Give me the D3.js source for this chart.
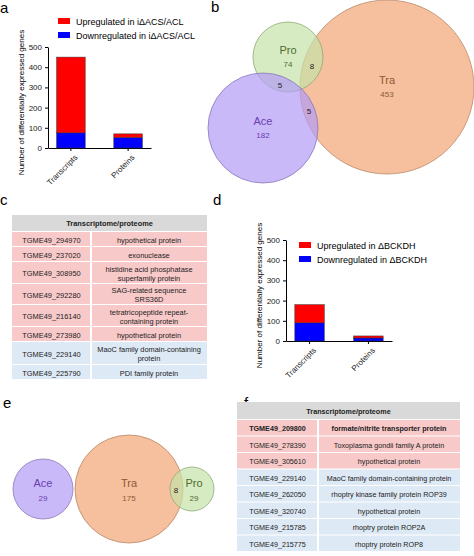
<!DOCTYPE html><html><head><meta charset="utf-8"><script src="https://cdn.jsdelivr.net/npm/d3@7"></script>
<style>body{margin:0;background:#fff}text{font-family:"Liberation Sans",Arial,sans-serif}</style></head><body>
<svg id="s" width="474" height="556"></svg>
<script>
const cats=["Transcripts","Proteins"];
const aDown=[75,52], aUp=[375,18];
const dDown=[90,15], dUp=[90,10];
const yTicks=[0,100,200,300,400,500];
const vennB=[{n:"Tra",v:453},{n:"Pro",v:74},{n:"Ace",v:182}];
const vennBOverlap=["8","5","5"];
const vennE=[{n:"Ace",v:29},{n:"Tra",v:175},{n:"Pro",v:29}];
const vennEOverlap=["8"];
const tableC=[["TGME49_294970","hypothetical protein",0],["TGME49_237020","exonuclease",0],["TGME49_308950","histidine acid phosphatase|superfamily protein",0],["TGME49_292280","SAG-related sequence|SRS36D",0],["TGME49_216140","tetratricopeptide repeat-|containing protein",0],["TGME49_273980","hypothetical protein",0],["TGME49_229140","MaoC family domain-containing|protein",1],["TGME49_225790","PDI family protein",1]];
const tableF=[["TGME49_209800","formate/nitrite transporter protein",0],["TGME49_278390","Toxoplasma gondii family A protein",0],["TGME49_305610","hypothetical protein",0],["TGME49_229140","MaoC family domain-containing protein",1],["TGME49_262050","rhoptry kinase family protein ROP39",1],["TGME49_320740","hypothetical protein",1],["TGME49_215785","rhoptry protein ROP2A",1],["TGME49_215775","rhoptry protein ROP8",1]];
const svg=d3.select("#s");
[["a",0,13],["b",211,12],["c",0,205],["d",213,205],["e",3,408],["f",244,408]].forEach(([t,x,y])=>svg.append("text").attr("x",x).attr("y",y).attr("font-size",15).text(t));

function bar(x0,x1,y0,y1,down,up,legY,legX,lab){
  const g=svg.append("g");
  const x=d3.scaleBand().domain(cats).range([x0,x1]).paddingInner(0.5).paddingOuter(0.15);
  const y=d3.scaleLinear().domain([0,500]).range([y0,y1]);
  g.append("g").attr("transform",`translate(0,${y0})`).call(d3.axisBottom(x).tickSize(3).tickSizeOuter(0))
   .selectAll("text").attr("font-size",8).attr("fill","#222").attr("text-anchor","end").attr("transform","rotate(-45)").attr("dx",-2).attr("dy",6);
  g.append("g").attr("transform",`translate(${x0},0)`).call(d3.axisLeft(y).tickValues(yTicks).tickSize(3).tickSizeOuter(0)).selectAll("text").attr("font-size",8).attr("fill","#222");
  g.selectAll(".domain,line").attr("stroke","#000").attr("stroke-width",1);
  cats.forEach((c,i)=>{
    g.append("rect").attr("x",x(c)).attr("width",x.bandwidth()).attr("y",y(down[i])).attr("height",y0-y(down[i])).attr("fill","#0000ff").attr("stroke","#333").attr("stroke-width",0.5);
    g.append("rect").attr("x",x(c)).attr("width",x.bandwidth()).attr("y",y(down[i]+up[i])).attr("height",y(down[i])-y(down[i]+up[i])).attr("fill","#ff0000").attr("stroke","#333").attr("stroke-width",0.5);
  });
  g.append("text").attr("transform",`translate(${x0-24},${(y0+y1)/2+5}) rotate(-90)`).attr("text-anchor","middle").attr("font-size",8).text("Number of differentially expressed genes");
  [["#ff0000","Upregulated in "+lab],["#0000ff","Downregulated in "+lab]].forEach(([c,t],i)=>{
    g.append("rect").attr("x",legX).attr("y",legY+i*14-4).attr("width",12).attr("height",6).attr("fill",c);
    g.append("text").attr("x",legX+18).attr("y",legY+i*14+3).attr("font-size",9).text(t);
  });
}
bar(48,151,148,47,aDown,aUp,22,58,"i\u0394ACS/ACL");
bar(286,392,341,240,dDown,dUp,246,299,"\u0394BCKDH");

function circle(cx,cy,r,f,s){svg.append("circle").attr("cx",cx).attr("cy",cy).attr("r",r).attr("fill",f).attr("fill-opacity",0.7).attr("stroke",s).attr("stroke-width",0.8);}
function lab(x,y,t,c,fs){svg.append("text").attr("x",x).attr("y",y).attr("text-anchor","middle").attr("font-size",fs).attr("fill",c).text(t);}
const col={Tra:["#f2a474","#b98a6a","#8a5a3a"],Pro:["#c6e2a8","#8fa878","#4f6a30"],Ace:["#b49bf5","#8a78b8","#6a3fb0"]};
// panel b
const bPos={Tra:[387,87,87],Pro:[288,57,35],Ace:[263,128,55]};
vennB.forEach(d=>{const p=bPos[d.n];circle(p[0],p[1],p[2],col[d.n][0],col[d.n][1]);});
vennB.forEach(d=>{const p=bPos[d.n];
  lab(p[0],p[1]-3,d.n,col[d.n][2],11);lab(p[0],p[1]+10,d.v,col[d.n][2],8);});
[[312,69],[280,88],[309,114]].forEach((p,i)=>lab(p[0],p[1],vennBOverlap[i],"#222",8));
// panel e
const ePos={Ace:[43,489,30],Tra:[129,489,54],Pro:[192,489,22]};
vennE.forEach(d=>{const p=ePos[d.n];circle(p[0],p[1],p[2],col[d.n][0],col[d.n][1]);});
vennE.forEach(d=>{const p=ePos[d.n];const o={Ace:0,Tra:0,Pro:2}[d.n];
  lab(p[0]+o,p[1]-2,d.n,col[d.n][2],11);lab(p[0]+o,p[1]+12,d.v,col[d.n][2],8);});
lab(176,493,vennEOverlap[0],"#222",8);

function table(x0,x1,split,y0,hh,rows,heights,fs,boldFirst){
  svg.append("rect").attr("x",x0).attr("y",y0).attr("width",x1-x0).attr("height",hh).attr("fill","#d9d9d9");
  svg.append("text").attr("x",(x0+x1)/2).attr("y",y0+hh/2+3).attr("text-anchor","middle").attr("font-size",fs).attr("font-weight","bold").attr("fill","#222").text("Transcriptome/proteome");
  let y=y0+hh+1;
  rows.forEach((r,i)=>{
    const h=heights[i], f=r[2]?"#dde9f5":"#f8c9c9", b=boldFirst&&i==0?"bold":"normal";
    svg.append("rect").attr("x",x0).attr("y",y).attr("width",split-x0-1).attr("height",h-1).attr("fill",f);
    svg.append("rect").attr("x",split+1).attr("y",y).attr("width",x1-split-1).attr("height",h-1).attr("fill",f);
    svg.append("text").attr("x",(x0+split)/2).attr("y",y+h/2+3).attr("text-anchor","middle").attr("font-size",fs).attr("font-weight",b).attr("fill","#222").text(r[0]);
    const ls=r[1].split("|");
    ls.forEach((l,j)=>svg.append("text").attr("x",(split+x1)/2).attr("y",y+h/2+3+(j-(ls.length-1)/2)*9).attr("text-anchor","middle").attr("font-size",fs).attr("font-weight",b).attr("fill","#222").text(l));
    y+=h;
  });
}
table(12,207,91,215,16,tableC,[15,15,22,21,22,15,23,15],7.4,false);
table(237,460,318,402,17,tableF,[16.5,16.5,16.5,16.5,16.5,16.5,16.5,16.5],7.2,true);
</script></body></html>
